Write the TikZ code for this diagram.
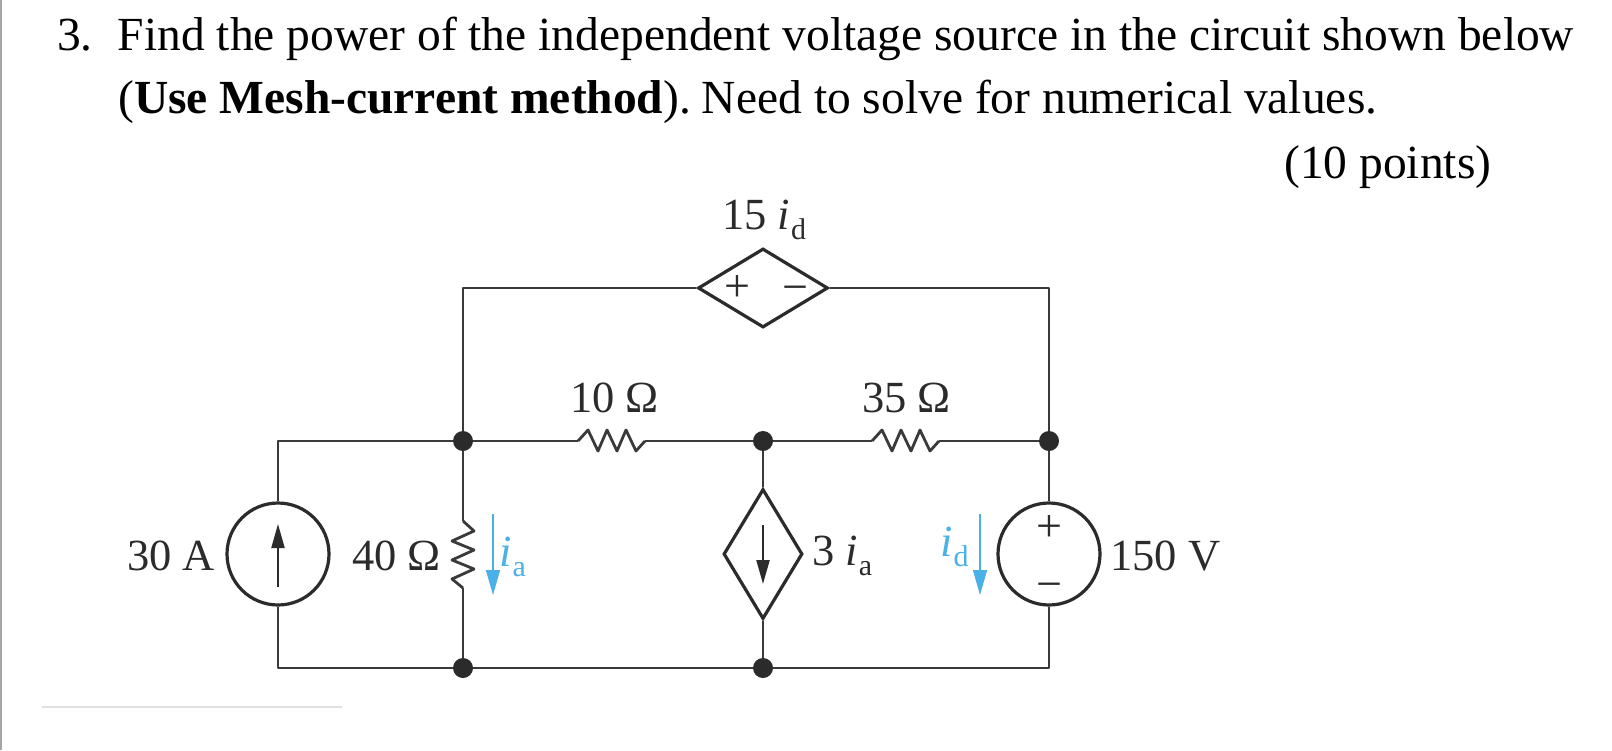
\documentclass[tikz,border=0pt]{standalone}
\usepackage{fontspec}
\setmainfont{Liberation Serif}
\usetikzlibrary{shapes.geometric,arrows.meta}
\definecolor{ink}{HTML}{2B2B2B}
\definecolor{wire}{HTML}{3A3A3A}
\definecolor{sky}{HTML}{4AB0E8}
\newcommand{\lab}{\fontsize{44.5}{44.5}\selectfont}
\newcommand{\subs}[1]{\hspace{1pt}\raisebox{-10pt}{\fontsize{30}{30}\selectfont #1}}
\tikzset{
  prose/.style={anchor=base west,inner sep=0,text=black,font=\fontsize{47.5}{47.5}\selectfont},
  lbl/.style={anchor=base west,inner sep=0,text=ink,font=\lab},
  blbl/.style={anchor=base west,inner sep=0,text=sky,font=\lab},
  sym/.style={anchor=base,inner sep=0,text=ink,font=\fontsize{46}{46}\selectfont},
  wr/.style={draw=wire,line width=2.8pt,line join=round},
  dot/.style={circle,fill=ink,inner sep=0,minimum size=20pt},
  srccirc/.style={circle,draw=ink,line width=3.2pt,inner sep=0,minimum size=102pt},
  depsrc/.style={diamond,draw=ink,line width=3.2pt,inner sep=0},
  inner/.style={draw=ink,line width=2.2pt,-{Triangle[length=24pt,width=13pt]}},
  meas/.style={draw=sky,line width=1.4pt,-{Triangle[length=25pt,width=14pt]}}
}
\begin{document}
\begin{tikzpicture}[x=1pt,y=-1pt]
\useasboundingbox (0,0) rectangle (1612,750);
\fill[white] (0,0) rectangle (1612,750);
\fill[gray!70] (0,0) rectangle (2,750);
\draw[black!12,line width=2pt] (42,707) -- (342,707);
% text
\node[prose] (t1) at (57,50) {3.\hspace{25pt}Find the power of the independent voltage source in the circuit shown below};
\node[prose] (t2) at (118,113) {(\textbf{Use Mesh-current method}).\hspace{-5pt} Need to solve for numerical values.};
\node[prose] (t3) at (1284,178) {(10 points)};
% junctions
\node[dot] (A) at (463,441) {};
\node[dot] (B) at (763,441) {};
\node[dot] (C) at (1049,441) {};
\node[dot] (G1) at (463,668) {};
\node[dot] (G2) at (763,668) {};
% sources
\node[srccirc] (I30) at (278,554) {};
\node[srccirc] (V150) at (1049,554) {};
\node[depsrc,minimum width=79pt,minimum height=130pt] (D3) at (763,554) {};
\node[depsrc,minimum width=130pt,minimum height=79pt] (D15) at (763,288) {};
% resistor ends
\coordinate (R10a) at (578,441);
\coordinate (R10b) at (645,441);
\coordinate (R35a) at (872,441);
\coordinate (R35b) at (939,441);
\coordinate (R40a) at (463,521);
\coordinate (R40b) at (463,588);
% wires
\draw[wr] (I30.north) |- (A);
\draw[wr] (I30.south) |- (G1);
\draw[wr] (G1) -- (G2);
\draw[wr] (G2) -| (V150.south);
\draw[wr] (V150.north) -- (C);
\draw[wr] (A) |- (D15.west);
\draw[wr] (D15.east) -| (C);
\draw[wr] (B) -- (D3.north);
\draw[wr] (D3.south) -- (G2);
\draw[wr] (A) -- (R40a);
\draw[wr] (R40b) -- (G1);
\draw[wr] (A) -- (R10a);
\draw[wr] (R10b) -- (B);
\draw[wr] (B) -- (R35a);
\draw[wr] (R35b) -- (C);
% resistors
\draw[wr] (R10a) -- ++(10,-11) -- ++(10,21) -- ++(9,-21) -- ++(10,21) -- ++(9,-21) -- ++(10,21) -- (R10b);
\draw[wr] (R35a) -- ++(10,-11) -- ++(10,21) -- ++(9,-21) -- ++(10,21) -- ++(9,-21) -- ++(10,21) -- (R35b);
\draw[wr] (R40a) -- ++(11,10) -- ++(-22,10) -- ++(22,9) -- ++(-22,10) -- ++(22,9) -- ++(-22,10) -- (R40b);
% inner arrows
\coordinate (ua) at (278,587); \coordinate (ub) at (278,524);
\draw[inner] (ua) -- (ub);
\coordinate (da) at (763,525); \coordinate (db) at (763,584);
\draw[inner] (da) -- (db);
% measurement arrows
\coordinate (ma1) at (493,514); \coordinate (ma2) at (493,595);
\draw[meas] (ma1) -- (ma2);
\coordinate (md1) at (980,514); \coordinate (md2) at (980,595);
\draw[meas] (md1) -- (md2);
% polarity
\node[sym] (p1) at (737,301) {+};
\node[sym] (m1) at (795,302) {−};
\node[sym] (p2) at (1049,541) {+};
\node[sym] (m2) at (1049,599) {−};
% labels
\node[lbl] (l15) at (722,229) {15 \textit{i}\subs{d}};
\node[lbl] (l10) at (570,412) {10 Ω};
\node[lbl] (l35) at (862,412) {35 Ω};
\node[lbl] (l30) at (127,570) {30 A};
\node[lbl] (l40) at (352,570) {40 Ω};
\node[lbl] (l3) at (812,565) {3 \textit{i}\subs{a}};
\node[lbl] (l150) at (1110,570) {150 V};
\node[blbl] (lia) at (499,566) {\textit{i}\subs{a}};
\node[blbl] (lid) at (940,556) {\textit{i}\subs{d}};
\end{tikzpicture}
\end{document}
